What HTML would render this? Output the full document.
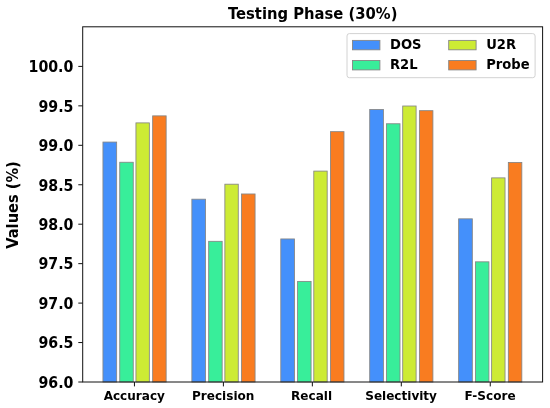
<!DOCTYPE html>
<html lang="en"><head><meta charset="utf-8"><title>Testing Phase (30%)</title>
<style>html,body{margin:0;padding:0;background:#fff;}svg{display:block;}text{font-family:'DejaVu Sans','Liberation Sans',sans-serif;font-weight:bold;fill:#000;}</style>
</head><body>
<svg width="550" height="408" viewBox="0 0 550 408">
<rect x="0" y="0" width="550" height="408" fill="#ffffff"/>
<g stroke="#858585" stroke-width="0.85">
<rect x="102.95" y="142.06" width="13.70" height="239.94" fill="#4490fb"/>
<rect x="119.75" y="162.26" width="13.50" height="219.74" fill="#38ee9a"/>
<rect x="135.95" y="122.89" width="13.40" height="259.11" fill="#cdeb34"/>
<rect x="152.65" y="115.87" width="13.50" height="266.13" fill="#f97c20"/>
<rect x="191.87" y="199.19" width="13.70" height="182.81" fill="#4490fb"/>
<rect x="208.67" y="241.32" width="13.50" height="140.68" fill="#38ee9a"/>
<rect x="224.87" y="184.20" width="13.40" height="197.80" fill="#cdeb34"/>
<rect x="241.57" y="193.98" width="13.50" height="188.02" fill="#f97c20"/>
<rect x="280.79" y="238.95" width="13.70" height="143.05" fill="#4490fb"/>
<rect x="297.59" y="281.40" width="13.50" height="100.60" fill="#38ee9a"/>
<rect x="313.79" y="171.10" width="13.40" height="210.90" fill="#cdeb34"/>
<rect x="330.49" y="131.65" width="13.50" height="250.35" fill="#f97c20"/>
<rect x="369.71" y="109.56" width="13.70" height="272.44" fill="#4490fb"/>
<rect x="386.51" y="123.76" width="13.50" height="258.24" fill="#38ee9a"/>
<rect x="402.71" y="106.01" width="13.40" height="275.99" fill="#cdeb34"/>
<rect x="419.41" y="110.66" width="13.50" height="271.34" fill="#f97c20"/>
<rect x="458.63" y="218.83" width="13.70" height="163.17" fill="#4490fb"/>
<rect x="475.43" y="261.83" width="13.50" height="120.17" fill="#38ee9a"/>
<rect x="491.63" y="177.88" width="13.40" height="204.12" fill="#cdeb34"/>
<rect x="508.33" y="162.42" width="13.50" height="219.58" fill="#f97c20"/>
</g>
<rect x="82.70" y="26.80" width="459.90" height="355.20" fill="none" stroke="#101010" stroke-width="1.0"/>
<g stroke="#101010" stroke-width="1.0">
<line x1="134.45" y1="382.00" x2="134.45" y2="386.40"/>
<line x1="223.40" y1="382.00" x2="223.40" y2="386.40"/>
<line x1="312.35" y1="382.00" x2="312.35" y2="386.40"/>
<line x1="401.30" y1="382.00" x2="401.30" y2="386.40"/>
<line x1="490.25" y1="382.00" x2="490.25" y2="386.40"/>
<line x1="78.30" y1="382.00" x2="82.70" y2="382.00"/>
<line x1="78.30" y1="342.55" x2="82.70" y2="342.55"/>
<line x1="78.30" y1="303.10" x2="82.70" y2="303.10"/>
<line x1="78.30" y1="263.65" x2="82.70" y2="263.65"/>
<line x1="78.30" y1="224.20" x2="82.70" y2="224.20"/>
<line x1="78.30" y1="184.75" x2="82.70" y2="184.75"/>
<line x1="78.30" y1="145.30" x2="82.70" y2="145.30"/>
<line x1="78.30" y1="105.85" x2="82.70" y2="105.85"/>
<line x1="78.30" y1="66.40" x2="82.70" y2="66.40"/>
</g>
<g font-size="15.0" text-anchor="end">
<text transform="translate(73.40,387.75) scale(0.947,1)">96.0</text>
<text transform="translate(73.40,348.30) scale(0.947,1)">96.5</text>
<text transform="translate(73.40,308.85) scale(0.947,1)">97.0</text>
<text transform="translate(73.40,269.40) scale(0.947,1)">97.5</text>
<text transform="translate(73.40,229.95) scale(0.947,1)">98.0</text>
<text transform="translate(73.40,190.50) scale(0.947,1)">98.5</text>
<text transform="translate(73.40,151.05) scale(0.947,1)">99.0</text>
<text transform="translate(73.40,111.60) scale(0.947,1)">99.5</text>
<text transform="translate(73.40,72.15) scale(0.947,1)">100.0</text>
</g>
<g font-size="12.05" text-anchor="middle">
<text x="134.25" y="399.80">Accuracy</text>
<text x="223.20" y="399.80">Precision</text>
<text x="311.55" y="399.80">Recall</text>
<text x="401.10" y="399.80">Selectivity</text>
<text x="490.05" y="399.80">F-Score</text>
</g>
<text transform="translate(312.65,18.9) scale(0.973,1)" font-size="15.2" text-anchor="middle">Testing Phase (30%)</text>
<text transform="translate(18.4,205.00) rotate(-90) scale(0.963,1)" font-size="15.2" text-anchor="middle">Values (%)</text>
<rect x="347.0" y="33.6" width="188.1" height="44.1" rx="2.4" ry="2.4" fill="#ffffff" fill-opacity="0.8" stroke="#d2d2d2" stroke-width="1.0"/>
<rect x="352.50" y="40.40" width="27.4" height="9.4" fill="#4490fb" stroke="#858585" stroke-width="0.9"/>
<text transform="translate(390.00,49.45) scale(0.912,1)" font-size="14.4">DOS</text>
<rect x="352.50" y="60.50" width="27.4" height="9.4" fill="#38ee9a" stroke="#858585" stroke-width="0.9"/>
<text transform="translate(390.00,69.45) scale(0.912,1)" font-size="14.4">R2L</text>
<rect x="448.70" y="40.40" width="27.4" height="9.4" fill="#cdeb34" stroke="#858585" stroke-width="0.9"/>
<text transform="translate(486.20,49.45) scale(0.912,1)" font-size="14.4">U2R</text>
<rect x="448.70" y="60.50" width="27.4" height="9.4" fill="#f97c20" stroke="#858585" stroke-width="0.9"/>
<text transform="translate(486.20,69.45) scale(0.912,1)" font-size="14.4">Probe</text>
</svg></body></html>
